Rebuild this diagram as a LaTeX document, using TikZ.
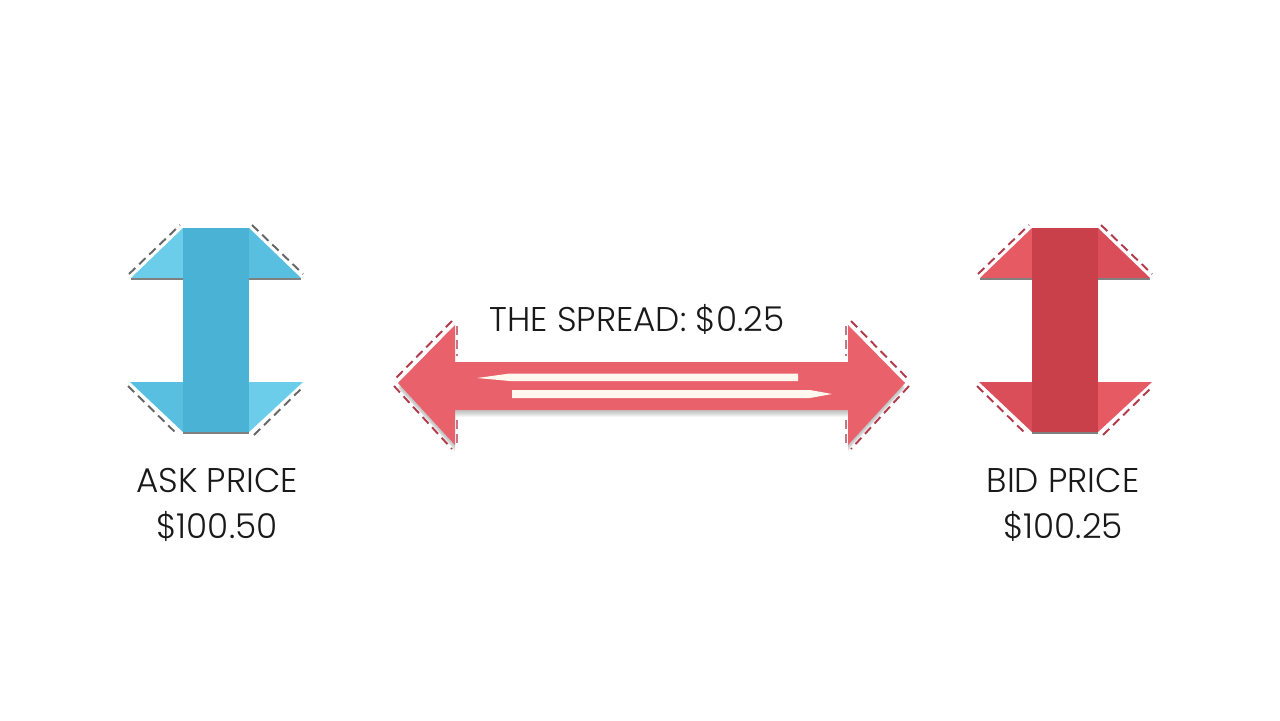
\documentclass[tikz,border=0pt]{standalone}
\usepackage{fontspec}
\setmainfont{Poppins Light}
\usepackage{tikz}

\definecolor{askShaft}{HTML}{4AB2D4}
\definecolor{askWingA}{HTML}{6CCDEB}
\definecolor{askWingB}{HTML}{58BFE0}
\definecolor{bidShaft}{HTML}{C93F4A}
\definecolor{bidWingA}{HTML}{E65A64}
\definecolor{bidWingB}{HTML}{DA4E59}
\definecolor{spreadRed}{HTML}{E8616B}
\definecolor{spreadDash}{HTML}{B23A4A}
\definecolor{cream}{HTML}{FFF8EE}

% vertical price arrow: x centre, shaft, left wings, right wings, dash colour
\newcommand{\PriceArrow}[5]{%
	\begin{scope}[shift={(#1,0)}]
		\fill[#3] (-33,228) -- (-85,278) -- (-33,278) -- cycle;
		\fill[#4] (33,228) -- (85,278) -- (33,278) -- cycle;
		\fill[#4] (-33,382) -- (-86,382) -- (-33,432) -- cycle;
		\fill[#3] (33,382) -- (87,382) -- (33,432) -- cycle;
		\fill[#2] (-33,228) rectangle (33,432);
		\draw[shade line] (-85,279) -- (-33,279) (33,279) -- (85,279) (-33,433) -- (33,433);
		\draw[fold dash=#5] (-87,274) -- (-36,225) (36,225) -- (87,274)
			(-88,386) -- (-38,435) (38,435) -- (88,386);
	\end{scope}}

\begin{document}
\begin{tikzpicture}[x=0.02cm, y=-0.02cm,
	shade line/.style={draw=black!50, line width=0.8pt},
	fold dash/.style={draw=#1, line width=1.1pt, dash pattern=on 5pt off 3pt},
	price/.style={font=\fontsize{19.5}{22}\selectfont, text=black!90, anchor=base, inner sep=0pt}]
	\fill[white] (0,0) rectangle (1280,720);
	\useasboundingbox (0,0) rectangle (1280,720);

	\PriceArrow{216}{askShaft}{askWingA}{askWingB}{black!60}
	\PriceArrow{1065}{bidShaft}{bidWingA}{bidWingB}{spreadDash}

	% the spread, with a soft shadow under it
	\foreach \d in {1,2,...,6}
		\fill[black, opacity=0.04, shift={(0,\d+1)}]
			(398,383) -- (455,325) -- (455,362) -- (848,362) -- (848,325) -- (905,383)
			-- (848,445) -- (848,410) -- (455,410) -- (455,445) -- cycle;
	\fill[spreadRed]
		(398,383) -- (455,325) -- (455,362) -- (848,362) -- (848,325) -- (905,383)
		-- (848,445) -- (848,410) -- (455,410) -- (455,445) -- cycle;
	\fill[cream] (477,378) -- (510,373.5) -- (798,373.5) -- (798,381) -- (510,381) -- cycle;
	\fill[cream] (512,390) -- (810,390) -- (832,394) -- (810,398) -- (512,398) -- cycle;
	\draw[white, line width=1.6pt] (452,321) -- (394,380) (394,386) -- (452,449)
		(851,321) -- (909,380) (909,386) -- (851,449);
	\draw[fold dash=spreadDash] (452,321) -- (394,380) (394,386) -- (452,449)
		(851,321) -- (909,380) (909,386) -- (851,449);
	\draw[fold dash=spreadDash!70, line width=0.8pt] (457,326) -- (457,356) (457,420) -- (457,444)
		(846,326) -- (846,356) (846,420) -- (846,444);

	\node[price] (spread) at (637,331) {THE SPREAD: \$0.25};
	\node[price] (askname) at (217,492) {ASK PRICE};
	\node[price] (askval) at (217,538) {\$100.50};
	\node[price] (bidname) at (1063,492) {BID PRICE};
	\node[price] (bidval) at (1063,538) {\$100.25};
\end{tikzpicture}
\end{document}
